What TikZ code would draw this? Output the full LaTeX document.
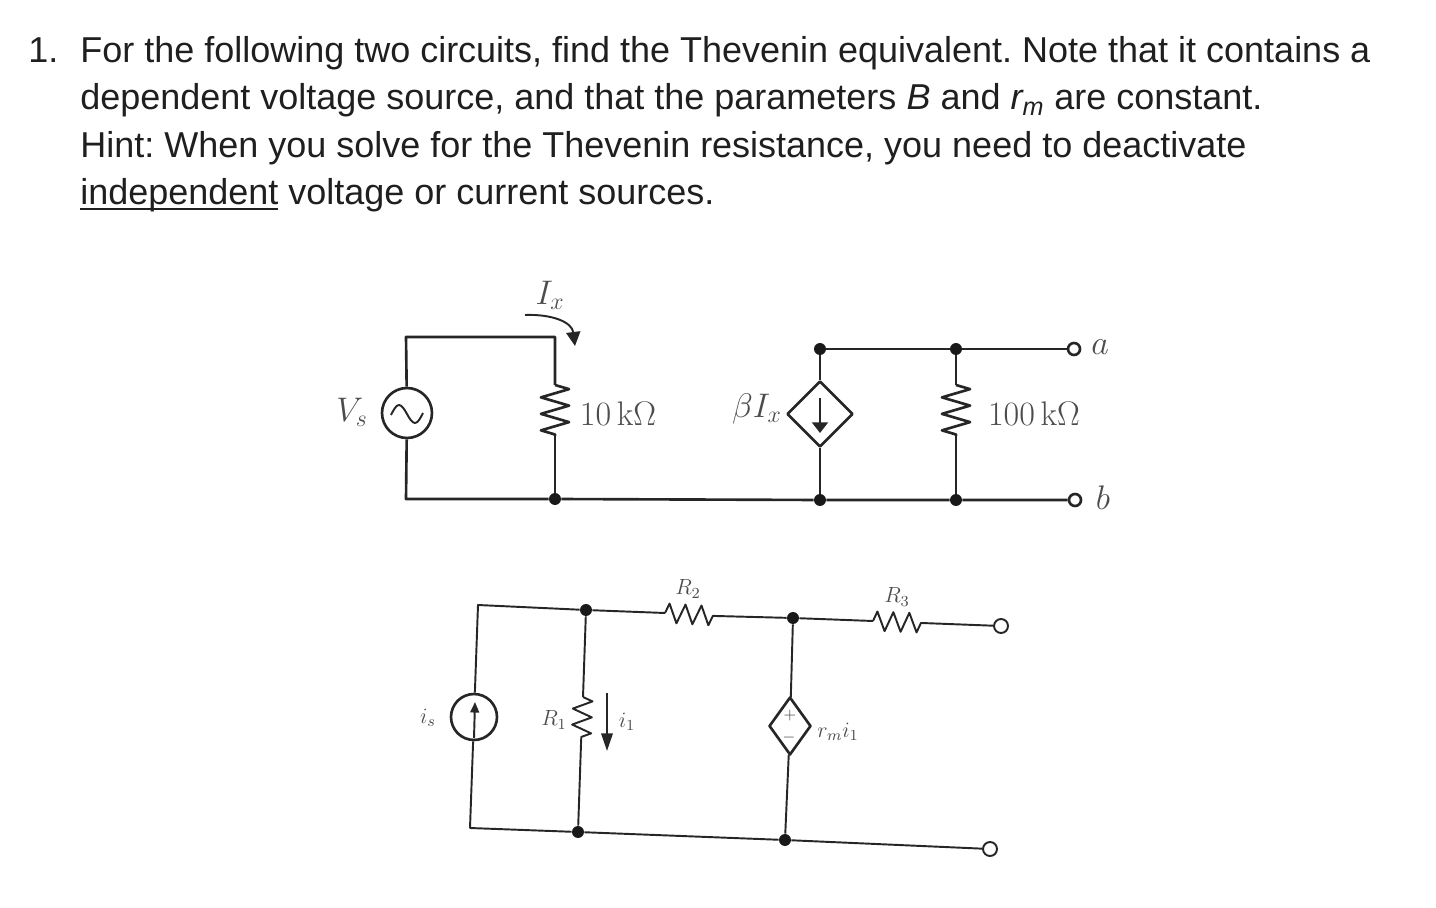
\documentclass[tikz,border=0pt]{standalone}
\usepackage{fix-cm}
\usepackage[no-math]{fontspec}
\setmainfont{Liberation Sans}
\usepackage{amsmath}
\usetikzlibrary{arrows.meta}
\usetikzlibrary{shapes.geometric}
\usetikzlibrary{decorations.pathmorphing}
\frenchspacing
\newsavebox{\ulbox}
\newcommand{\ulword}[1]{\sbox{\ulbox}{#1}\rlap{\rule[-3pt]{\wd\ulbox}{1.2pt}}\usebox{\ulbox}}
\tikzset{
	txt/.style={anchor=base west,inner sep=0,font=\fontsize{20.48}{24}\selectfont,text=black!88},
	lbl/.style={inner sep=0,text=black!70},
	big/.style={font=\fontsize{19.4}{22}\selectfont},
	small/.style={font=\fontsize{12.5}{15}\selectfont},
	wireA/.style={line width=1.5pt,draw=black!85,line join=round},
	wireB/.style={line width=1.1pt,draw=black!85,line join=round},
	dot/.style={circle,fill=black!90,draw=none,minimum size=6.8pt,inner sep=0},
	term/.style={circle,fill=white,inner sep=0},
	resA/.style={decorate,decoration={zigzag,segment length=16.5*0.569pt,amplitude=8pt}},
	resB/.style={decorate,decoration={zigzag,segment length=16*0.569pt,amplitude=5.5pt}},
	arr/.style={-{Triangle[width=8pt,length=8pt]}},
}
\begin{document}
\begin{tikzpicture}[x=0.02cm,y=-0.02cm]
	\useasboundingbox (0,0) rectangle (1436,908);
	
	% question text
	\node[txt] (T0) at (28,63) {1.};
	\node[txt] (T1) at (80,63) {For the following two circuits, find the Thevenin equivalent. Note that it contains a};
	\node[txt] (T2) at (80,110) {dependent voltage source, and that the parameters \textit{B} and \textit{r\textsubscript{m}} are constant.};
	\node[txt] (T3) at (80,158) {Hint: When you solve for the Thevenin resistance, you need to deactivate};
	\node[txt] (T4) at (80,205) {\ulword{independent} voltage or current sources.};
	
	% first circuit
	\node[circle,draw,wireA,minimum size=50*0.569pt,inner sep=0] (Vs) at (407,413) {};
	\coordinate (A1) at (406,337);
	\coordinate (A2) at (555,337);
	\coordinate (A3) at (406,499);
	\coordinate (Ra1) at (555,385);
	\coordinate (Ra2) at (555,436);
	\node[dot] (J1) at (555,499) {};
	\node[dot] (J2) at (820,349) {};
	\node[dot] (J3) at (956,349) {};
	\node[dot] (J4) at (820,500) {};
	\node[dot] (J5) at (956,500) {};
	\node[term,wireA,minimum size=12*0.569pt] (Ta) at (1074,349) {};
	\node[term,wireA,minimum size=12*0.569pt] (Tb) at (1075,500) {};
	\node[diamond,draw,wireA,minimum width=66*0.569pt,minimum height=66*0.569pt,inner sep=0] (Di) at (820,414) {};
	\coordinate (Rb1) at (956,385);
	\coordinate (Rb2) at (956,436);
	
	\draw[wireA] (Vs) -- (A1) -- (A2) -- (Ra1);
	\draw[wireA,resA] (Ra1) -- (Ra2);
	\draw[wireA] (Ra2) -- (J1);
	\draw[wireA] (Vs) -- (A3) -- (J1) -- (J4) -- (J5) -- (Tb);
	\draw[wireA] (J2) -- (J3) -- (Ta);
	\draw[wireA] (J2) -- (Di);
	\draw[wireA] (Di) -- (J4);
	\draw[wireA] (J3) -- (Rb1);
	\draw[wireA,resA] (Rb1) -- (Rb2);
	\draw[wireA] (Rb2) -- (J5);
	
	\draw[wireB] (391,415) sin (399,405) cos (407,414) sin (415,423) cos (423,413);
	\coordinate (Ix1) at (525,315);
	\coordinate (Ix2) at (575,346);
	\draw[wireB,arr] (Ix1) .. controls (552,314) and (572,322) .. (Ix2);
	\coordinate (Da1) at (820,398);
	\coordinate (Da2) at (820,433);
	\draw[wireB,-{Triangle[width=9pt,length=6pt]}] (Da1) -- (Da2);
	
	\node[lbl,big] (Lv) at (352,412) {$V_s$};
	\node[lbl,big] (Lx) at (550,295) {$I_x$};
	\node[lbl,big] (L10) at (618,414) {$10\,\mathrm{k\Omega}$};
	\node[lbl,big] (Lb) at (757,409) {$\beta I_x$};
	\node[lbl,big] (L100) at (1034,414) {$100\,\mathrm{k\Omega}$};
	\node[lbl,big] (La) at (1100,347) {$a$};
	\node[lbl,big] (Lbb) at (1103,498) {$b$};
	
	% second circuit
	\node[circle,draw,wireA,minimum size=46*0.569pt,inner sep=0] (Is) at (474,717) {};
	\coordinate (B1) at (478,605);
	\coordinate (B2) at (470,828);
	\node[dot] (K1) at (586,610) {};
	\node[dot] (K2) at (793,618) {};
	\node[dot] (K3) at (578,832) {};
	\node[dot] (K4) at (785,840) {};
	\coordinate (R2a) at (665,613);
	\coordinate (R2b) at (716,616);
	\coordinate (R3a) at (873,621);
	\coordinate (R3b) at (922,623);
	\coordinate (R1a) at (583,697);
	\coordinate (R1b) at (581,744);
	\node[term,wireB,minimum size=14*0.569pt] (Tc) at (1001,626) {};
	\node[term,wireB,minimum size=14*0.569pt] (Td) at (990,849) {};
	\node[diamond,draw,wireA,minimum width=42*0.569pt,minimum height=58*0.569pt,inner sep=0] (Dv) at (790,726) {};
	
	\draw[wireB] (Is) -- (B1) -- (K1) -- (R2a);
	\draw[wireB,resB] (R2a) -- (R2b);
	\draw[wireB] (R2b) -- (K2) -- (R3a);
	\draw[wireB,resB] (R3a) -- (R3b);
	\draw[wireB] (R3b) -- (Tc);
	\draw[wireB] (Is) -- (B2) -- (K3) -- (K4) -- (Td);
	\draw[wireB] (K1) -- (R1a);
	\draw[wireB,resB] (R1a) -- (R1b);
	\draw[wireB] (R1b) -- (K3);
	\draw[wireB] (K2) -- (Dv);
	\draw[wireB] (Dv) -- (K4);
	
	\coordinate (Ds1) at (474,738);
	\coordinate (Ds2) at (475,702);
	\draw[wireB,-{Triangle[width=5pt,length=6pt]}] (Ds1) -- (Ds2);
	\coordinate (Di1) at (607,693);
	\coordinate (Di2) at (607,751);
	\draw[wireB,-{Triangle[width=6.5pt,length=10pt]}] (Di1) -- (Di2);
	
	\node[lbl,font=\fontsize{9}{11}\selectfont] (Pl) at (790,716) {$+$};
	\node[lbl,font=\fontsize{9}{11}\selectfont] (Mi) at (789,738) {$-$};
	\node[lbl,small] (Ls) at (428,718) {$i_s$};
	\node[lbl,small] (Lr1) at (554,720) {$R_1$};
	\node[lbl,small] (Li1) at (627,722) {$i_1$};
	\node[lbl,small] (Lr2) at (688,589) {$R_2$};
	\node[lbl,small] (Lr3) at (897,597) {$R_3$};
	\node[lbl,small] (Lrm) at (838,732) {$r_m i_1$};
	
\end{tikzpicture}
\end{document}
